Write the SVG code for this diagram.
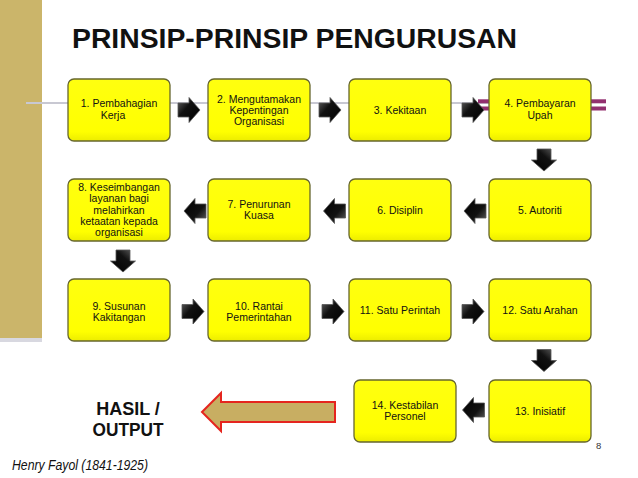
<svg xmlns="http://www.w3.org/2000/svg" xmlns:xlink="http://www.w3.org/1999/xlink" width="638" height="478" viewBox="0 0 638 478">
<style>
.box{fill:url(#yel);stroke:#66662e;stroke-width:1.3}
.t{font-family:"Liberation Sans",Arial,sans-serif;font-size:10.5px;fill:#111;text-anchor:middle}
.ar{fill:url(#dk);stroke:#555;stroke-width:0.8}
</style>
<defs>
<linearGradient id="yel" x1="0" y1="0" x2="0" y2="1">
<stop offset="0" stop-color="#ffff10"/>
<stop offset="0.85" stop-color="#ffff00"/>
<stop offset="1" stop-color="#ecec00"/>
</linearGradient>
<linearGradient id="dk" x1="0" y1="0" x2="1" y2="1">
<stop offset="0" stop-color="#666"/>
<stop offset="0.4" stop-color="#111"/>
<stop offset="1" stop-color="#000"/>
</linearGradient>
<path id="ra" d="M-11,-7 H0 V-12.5 L11,0 L0,12.5 V7 H-11 Z"/>
</defs>
<rect x="0" y="0" width="638" height="478" fill="#fff"/>
<rect x="0" y="0" width="42" height="338" fill="#cbb56a"/>
<rect x="0" y="338" width="42" height="4" fill="#d8d8e0"/>
<text x="72" y="48" font-family="'Liberation Sans',Arial,sans-serif" font-weight="bold" font-size="27" fill="#111" textLength="445" lengthAdjust="spacingAndGlyphs">PRINSIP-PRINSIP PENGURUSAN</text>

<g id="connectors">
<line x1="26" y1="103" x2="489" y2="103" stroke="#c8c8d2" stroke-width="2"/>
<rect x="478" y="99.3" width="11" height="4" fill="#93306f"/>
<rect x="478" y="106.5" width="11" height="4" fill="#93306f"/>
<rect x="591" y="99.3" width="15" height="4" fill="#93306f"/>
<rect x="591" y="106.5" width="15" height="4" fill="#93306f"/>
<use xlink:href="#ra" class="ar" transform="translate(189,110)"/>
<use xlink:href="#ra" class="ar" transform="translate(330,110)"/>
<use xlink:href="#ra" class="ar" transform="translate(473,110)"/>
<use xlink:href="#ra" class="ar" transform="translate(544,160) rotate(90)"/>
<use xlink:href="#ra" class="ar" transform="translate(475,211) rotate(180)"/>
<use xlink:href="#ra" class="ar" transform="translate(334.5,211) rotate(180)"/>
<use xlink:href="#ra" class="ar" transform="translate(195,211) rotate(180)"/>
<use xlink:href="#ra" class="ar" transform="translate(123,261) rotate(90)"/>
<use xlink:href="#ra" class="ar" transform="translate(193,311.5)"/>
<use xlink:href="#ra" class="ar" transform="translate(333,311.5)"/>
<use xlink:href="#ra" class="ar" transform="translate(473,311.5)"/>
<use xlink:href="#ra" class="ar" transform="translate(544,360.5) rotate(90)"/>
<use xlink:href="#ra" class="ar" transform="translate(473.5,410) rotate(180)"/>
<path d="M202,412 L221,393 V402 H335 V422 H221 V431 Z" fill="#c8ae62" stroke="#e5251e" stroke-width="2" stroke-linejoin="miter"/>
</g>

<g id="n1"><rect class="box" x="68" y="79" width="102" height="62" rx="6"/><text class="t" x="119" y="107">1. Pembahagian</text><text class="t" x="113" y="118.5">Kerja</text></g>
<g id="n2"><rect class="box" x="208" y="79" width="102" height="62" rx="6"/><text class="t" x="259" y="103">2. Mengutamakan</text><text class="t" x="259" y="114">Kepentingan</text><text class="t" x="259" y="125">Organisasi</text></g>
<g id="n3"><rect class="box" x="349" y="79" width="102" height="62" rx="6"/><text class="t" x="400" y="114">3. Kekitaan</text></g>
<g id="n4"><rect class="box" x="489" y="79" width="102" height="62" rx="6"/><text class="t" x="540" y="107">4. Pembayaran</text><text class="t" x="540" y="118.5">Upah</text></g>

<g id="n8"><rect class="box" x="68" y="179" width="102" height="62" rx="6"/><text class="t" x="119" y="191">8. Keseimbangan</text><text class="t" x="119" y="202.3">layanan bagi</text><text class="t" x="119" y="213.6">melahirkan</text><text class="t" x="119" y="225">ketaatan kepada</text><text class="t" x="119" y="236.3">organisasi</text></g>
<g id="n7"><rect class="box" x="208" y="179" width="102" height="62" rx="6"/><text class="t" x="259" y="208">7. Penurunan</text><text class="t" x="259" y="219">Kuasa</text></g>
<g id="n6"><rect class="box" x="349" y="179" width="102" height="62" rx="6"/><text class="t" x="400" y="214">6. Disiplin</text></g>
<g id="n5"><rect class="box" x="489" y="179" width="102" height="62" rx="6"/><text class="t" x="540" y="214">5. Autoriti</text></g>

<g id="n9"><rect class="box" x="68" y="279" width="102" height="62" rx="6"/><text class="t" x="119" y="309.5">9. Susunan</text><text class="t" x="119" y="320.5">Kakitangan</text></g>
<g id="n10"><rect class="box" x="208" y="279" width="102" height="62" rx="6"/><text class="t" x="259" y="309.5">10. Rantai</text><text class="t" x="259" y="320.5">Pemerintahan</text></g>
<g id="n11"><rect class="box" x="349" y="279" width="102" height="62" rx="6"/><text class="t" x="400" y="314">11. Satu Perintah</text></g>
<g id="n12"><rect class="box" x="489" y="279" width="102" height="62" rx="6"/><text class="t" x="540" y="314">12. Satu Arahan</text></g>

<g id="n14"><rect class="box" x="354" y="380" width="102" height="62" rx="6"/><text class="t" x="405" y="409">14. Kestabilan</text><text class="t" x="405" y="420">Personel</text></g>
<g id="n13"><rect class="box" x="489" y="380" width="102" height="62" rx="6"/><text class="t" x="540" y="415">13. Inisiatif</text></g>

<g id="output"><text x="128" y="415" font-family="'Liberation Sans',Arial,sans-serif" font-weight="bold" font-size="18" fill="#111" text-anchor="middle">HASIL /</text><text x="128" y="436" font-family="'Liberation Sans',Arial,sans-serif" font-weight="bold" font-size="18" fill="#111" text-anchor="middle" textLength="71" lengthAdjust="spacingAndGlyphs">OUTPUT</text></g>
<text x="596" y="449" font-family="'Liberation Sans',Arial,sans-serif" font-size="9.5" fill="#333">8</text>
<text x="12" y="470" font-family="'Liberation Sans',Arial,sans-serif" font-style="italic" font-size="14" fill="#111" textLength="136" lengthAdjust="spacingAndGlyphs">Henry Fayol (1841-1925)</text>
</svg>
